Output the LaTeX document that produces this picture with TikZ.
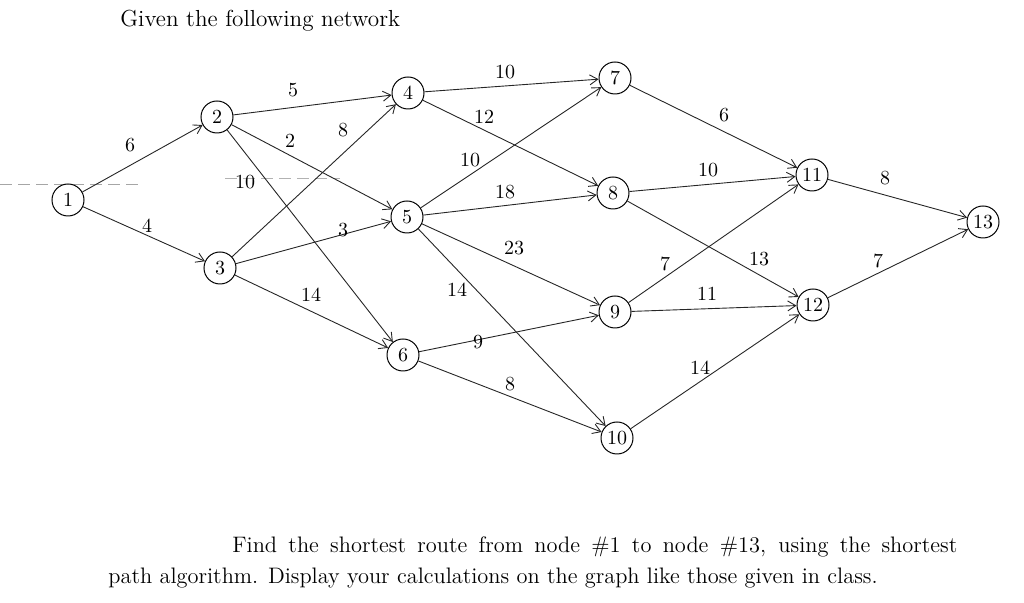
\documentclass[tikz,border=0pt]{standalone}
\usetikzlibrary{arrows.meta}
\begin{document}
\begin{tikzpicture}[x=0.5pt,y=-0.5pt,
  vtx/.style={draw,circle,minimum size=16pt,inner sep=0pt,line width=0.5pt,font=\normalsize},
  edge/.style={-{Straight Barb[length=4pt,width=5pt]},line width=0.45pt,draw=black!85},
  wt/.style={font=\normalsize},
  txt/.style={anchor=base west,inner sep=0pt,font=\fontsize{11.6}{14}\selectfont},
  qtxt/.style={anchor=base west,inner sep=0pt,font=\fontsize{11.2}{14}\selectfont}]
\useasboundingbox (0,0) rectangle (1024,603);
% faint scan line
\draw[black!35,dash pattern=on 6pt off 3pt,line width=0.4pt] (0,184) -- (140,184);
\draw[black!30,dash pattern=on 6pt off 3pt,line width=0.4pt] (225,178) -- (340,178);
% title
\node[txt] (title) at (120,27) {Given the following network};
% nodes
\node[vtx] (n1) at (68,200) {1};
\node[vtx] (n2) at (217,117) {2};
\node[vtx] (n3) at (220,268) {3};
\node[vtx] (n4) at (408,93) {4};
\node[vtx] (n5) at (407,217) {5};
\node[vtx] (n6) at (403,355) {6};
\node[vtx] (n7) at (615,78) {7};
\node[vtx] (n8) at (613,193) {8};
\node[vtx] (n9) at (615,312) {9};
\node[vtx] (n10) at (617,438) {10};
\node[vtx] (n11) at (812,175) {11};
\node[vtx] (n12) at (813,305) {12};
\node[vtx] (n13) at (983,222) {13};
% edges
\draw[edge] (n1) -- (n2);
\draw[edge] (n1) -- (n3);
\draw[edge] (n2) -- (n4);
\draw[edge] (n2) -- (n5);
\draw[edge] (n2) -- (n6);
\draw[edge] (n3) -- (n4);
\draw[edge] (n3) -- (n5);
\draw[edge] (n3) -- (n6);
\draw[edge] (n4) -- (n7);
\draw[edge] (n4) -- (n8);
\draw[edge] (n5) -- (n7);
\draw[edge] (n5) -- (n8);
\draw[edge] (n5) -- (n9);
\draw[edge] (n5) -- (n10);
\draw[edge] (n6) -- (n9);
\draw[edge] (n6) -- (n10);
\draw[edge] (n7) -- (n11);
\draw[edge] (n8) -- (n11);
\draw[edge] (n8) -- (n12);
\draw[edge] (n9) -- (n11);
\draw[edge] (n9) -- (n12);
\draw[edge] (n10) -- (n12);
\draw[edge] (n11) -- (n13);
\draw[edge] (n12) -- (n13);
% weights
\node[wt] (w12) at (130,145) {6};
\node[wt] (w13) at (147,226) {4};
\node[wt] (w24) at (293,90) {5};
\node[wt] (w25) at (290,141) {2};
\node[wt] (w26) at (245,182) {10};
\node[wt] (w34) at (343,130) {8};
\node[wt] (w35) at (343,230) {3};
\node[wt] (w36) at (311,295) {14};
\node[wt] (w47) at (505,72) {10};
\node[wt] (w48) at (484,117) {12};
\node[wt] (w57) at (470,160) {10};
\node[wt] (w58) at (505,192) {18};
\node[wt] (w59) at (514,248) {23};
\node[wt] (w510) at (457,290) {14};
\node[wt] (w69) at (478,342) {9};
\node[wt] (w610) at (510,384) {8};
\node[wt] (w711) at (724,115) {6};
\node[wt] (w811) at (708,170) {10};
\node[wt] (w812) at (759,259) {13};
\node[wt] (w911) at (665,264) {7};
\node[wt] (w912) at (707,294) {11};
\node[wt] (w1012) at (700,368) {14};
\node[wt] (w1113) at (885,178) {8};
\node[wt] (w1213) at (878,261) {7};
% bottom text
\node[qtxt] (q1) at (232,553) {\makebox[362.5pt][s]{Find the shortest route from node \#1 to node \#13, using the shortest}};
\node[qtxt] (q2) at (108,584) {path algorithm. Display your calculations on the graph like those given in class.};
\end{tikzpicture}
\end{document}
